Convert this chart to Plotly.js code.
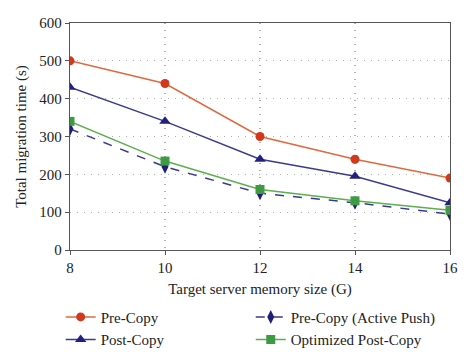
<!DOCTYPE html>
<html>
<head>
<meta charset="utf-8">
<script src="https://cdn.plot.ly/plotly-3.0.1.min.js"></script>
<style>html,body{margin:0;padding:0;background:#fff;}#chart{width:474px;height:364px;}</style>
</head>
<body>
<div id="chart"></div>
<script>
const memorySize = [8, 10, 12, 14, 16];
const preCopy = [500, 440, 300, 240, 190];
const preCopyActivePush = [320, 220, 150, 125, 95];
const postCopy = [430, 340, 240, 195, 125];
const optimizedPostCopy = [340, 235, 160, 130, 105];
const seriesNames = ["Pre-Copy", "Pre-Copy (Active Push)", "Post-Copy", "Optimized Post-Copy"];

const font = "Liberation Serif, Times New Roman, serif";
const textColor = "#222";

const traces = [
  {x: memorySize, y: preCopy, name: seriesNames[0], mode: "lines+markers", legend: "legend",
   line: {color: "#e0683f", width: 1.5}, marker: {symbol: "circle", size: 9, color: "#d2391c"}},
  {x: memorySize, y: postCopy, name: seriesNames[2], mode: "lines+markers", legend: "legend",
   line: {color: "#3b3a8f", width: 1.5}, marker: {symbol: "triangle-up", size: 10, color: "#232080"}},
  {x: memorySize, y: preCopyActivePush, name: seriesNames[1], mode: "lines+markers", legend: "legend2",
   line: {color: "#3a3a8c", width: 1.5, dash: "dash"}, marker: {symbol: "diamond-tall", size: 10, color: "#1f1f7a"}},
  {x: memorySize, y: optimizedPostCopy, name: seriesNames[3], mode: "lines+markers", legend: "legend2",
   line: {color: "#5caf4e", width: 1.5}, marker: {symbol: "square", size: 9, color: "#3e9a43"}}
];

const legendCommon = {
  orientation: "h", xref: "container", yref: "container", y: 0.174,
  xanchor: "left", yanchor: "top", tracegroupgap: 0, itemwidth: 30,
  entrywidth: 300, entrywidthmode: "pixels",
  bgcolor: "rgba(0,0,0,0)", font: {family: font, size: 15, color: textColor}
};

const layout = {
  width: 474, height: 364,
  margin: {l: 70, r: 24, t: 23, b: 114},
  paper_bgcolor: "#fff", plot_bgcolor: "#fff",
  font: {family: font, size: 14, color: textColor},
  showlegend: true,
  legend: Object.assign({}, legendCommon, {x: 0.128}),
  legend2: Object.assign({}, legendCommon, {x: 0.529}),
  xaxis: {
    range: [8, 16], tickvals: memorySize, ticktext: memorySize.map(String),
    showgrid: true, gridcolor: "#b0b0b0", griddash: "1px,6px", gridwidth: 1.2,
    zeroline: false, showline: true, mirror: true, linecolor: "#555", linewidth: 1.2,
    ticks: "outside", ticklen: 4, tickcolor: "#555", automargin: false,
    tickfont: {family: font, size: 15, color: textColor},
    title: {text: "Target server memory size (G)", font: {family: font, size: 15, color: textColor}, standoff: 8}
  },
  yaxis: {
    range: [0, 600], dtick: 100,
    showgrid: true, gridcolor: "#b0b0b0", griddash: "1px,6px", gridwidth: 1.2,
    zeroline: false, showline: true, mirror: true, linecolor: "#555", linewidth: 1.2,
    ticks: "outside", ticklen: 4, tickcolor: "#555", automargin: false,
    tickfont: {family: font, size: 15, color: textColor},
    title: {text: "Total migration time (s)", font: {family: font, size: 15, color: textColor}, standoff: 9}
  }
};

Plotly.newPlot("chart", traces, layout, {displayModeBar: false, staticPlot: true});
</script>
</body>
</html>
